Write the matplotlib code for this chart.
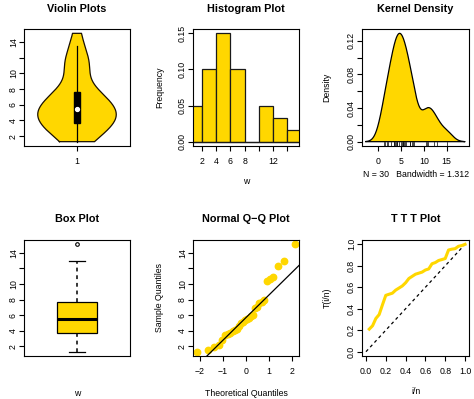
import numpy as np
import matplotlib
matplotlib.use("Agg")
import matplotlib.pyplot as plt
from statistics import NormalDist

plt.rcParams['font.family'] = ['Liberation Sans', 'DejaVu Sans']

# sorted sample
w = [1.3, 1.5, 1.95, 2.2, 2.85, 3.5, 3.58, 3.66, 3.9, 4.07,
     4.25, 4.54, 4.95, 5.17, 5.4, 5.52, 5.65, 5.93, 6.08, 6.9,
     7.1, 7.5, 7.7, 7.95, 10.4, 10.7, 10.9, 12.3, 12.9, 15.1]
hist_breaks = [0, 2, 4, 6, 8, 10, 12, 14, 16]
kde_bw = 1.312
violin_bw = 1.6

titles = ["Violin Plots", "Histogram Plot", "Kernel Density",
          "Box Plot", "Normal Q\u2212Q Plot", "T T T Plot"]

GOLD = "#FFD700"
W, H = 474, 399
SMALL = 6.3


def rect(l, t, r, b):
    return [l / W, 1 - b / H, (r - l) / W, (b - t) / H]


def expand(lo, hi):
    d = (hi - lo) * 0.04
    return lo - d, hi + d


def style(ax, xt, yt, xl=None, yl=None):
    ax.set_xticks(xt)
    ax.set_yticks(yt)
    ax.set_xticklabels(xl if xl is not None else [str(v) for v in xt])
    ax.set_yticklabels(yl if yl is not None else [str(v) for v in yt])
    ax.tick_params(direction='out', length=3.6, width=0.8, labelsize=SMALL, color='black')
    ax.tick_params(axis='x', pad=4.5)
    ax.tick_params(axis='y', pad=0.8)
    for lbl in ax.get_yticklabels():
        lbl.set_rotation(90)
        lbl.set_va('center')
    for s in ax.spines.values():
        s.set_linewidth(0.8)
        s.set_color('black')


def kde(x, data, bw):
    data = np.asarray(data)
    z = (x[:, None] - data[None, :]) / bw
    return np.exp(-0.5 * z ** 2).sum(axis=1) / (len(data) * bw * np.sqrt(2 * np.pi))


fig = plt.figure(figsize=(W / 100, H / 100), dpi=100)

cols = [(24, 130), (193, 299), (362, 469)]
rows = [(29, 146), (240, 356)]
axes = []
for r in rows:
    for c in cols:
        axes.append(fig.add_axes(rect(c[0], r[0], c[1], r[1])))

for ax, t in zip(axes, titles):
    pos = ax.get_position()
    fig.text(pos.x0 + pos.width / 2, pos.y1 + 20.5 / H, t, ha='center', va='center',
             fontsize=7.8, fontweight='bold')

data = np.array(w)
n = len(data)
q1, med, q3 = np.percentile(data, [25, 50, 75])
iqr = q3 - q1
ylim_w = expand(data.min(), data.max())
y_ticks = [2, 4, 6, 8, 10, 12, 14]
y_lbls = ['2', '4', '6', '8', '10', '', '14']

# violin
ax = axes[0]
yy = np.linspace(data.min(), data.max(), 200)
dens = kde(yy, data, violin_bw)
half = dens / dens.max() * 0.4
ax.fill_betweenx(yy, 1 - half, 1 + half, facecolor=GOLD, edgecolor='none')
ax.plot(np.r_[1 - half, (1 + half)[::-1], (1 - half)[0]],
        np.r_[yy, yy[::-1], yy[0]], color='#1a1000', lw=0.9)
hi_wh = min(data.max(), q3 + 1.5 * iqr)
lo_wh = max(data.min(), q1 - 1.5 * iqr)
ax.plot([1, 1], [lo_wh, hi_wh], color='black', lw=0.9)
ax.add_patch(plt.Rectangle((1 - 0.029, q1), 0.058, q3 - q1, color='black'))
ax.plot([1], [med], 'o', color='white', ms=2.8, mec='white')
ax.set_xlim(expand(0.5, 1.5))
ax.set_ylim(ylim_w)
style(ax, [1], y_ticks, yl=y_lbls)

# histogram
ax = axes[1]
counts, _ = np.histogram(data, bins=hist_breaks)
dh = counts / (n * 2.0)
ax.bar(hist_breaks[:-1], dh, width=2, align='edge', color=GOLD, edgecolor='#1a1a1a', lw=0.9)
ax.axhline(0, color='#1a1a1a', lw=0.9)
ax.set_xlim(ylim_w)
ax.set_ylim(expand(0, dh.max()))
style(ax, [2, 4, 6, 8, 10, 12, 14], [0, 0.05, 0.10, 0.15],
      xl=['2', '4', '6', '8', '', '12', ''], yl=['0.00', '0.05', '0.10', '0.15'])

# kernel density
ax = axes[2]
xx = np.linspace(data.min() - 3 * kde_bw, data.max() + 3 * kde_bw, 512)
dk = kde(xx, data, kde_bw)
ax.fill_between(xx, 0, dk, facecolor=GOLD, edgecolor='none')
ax.plot(np.r_[xx, xx[::-1][:1], xx[0]], np.r_[dk, 0, 0], color='black', lw=0.9)
for v in data:
    ax.plot([v, v], [0, 0.03], transform=ax.get_xaxis_transform(), color='black', lw=0.5)
ax.set_xlim(expand(xx.min(), xx.max()))
ax.set_ylim(expand(0, dk.max()))
style(ax, [0, 5, 10, 15], [0, 0.02, 0.04, 0.06, 0.08, 0.10, 0.12],
      yl=['0.00', '', '0.04', '', '0.08', '', '0.12'])

# box plot
ax = axes[3]
ax.add_patch(plt.Rectangle((0.8, q1), 0.4, iqr, facecolor=GOLD, edgecolor='black', lw=0.9, zorder=2))
ax.plot([0.8, 1.2], [med, med], color='black', lw=2.2, zorder=3, solid_capstyle='butt')
inside = data[(data >= q1 - 1.5 * iqr) & (data <= q3 + 1.5 * iqr)]
for a, b in [(q3, inside.max()), (q1, inside.min())]:
    ax.plot([1, 1], [a, b], color='black', lw=1.1, dashes=(2.5, 2.5))
    ax.plot([0.92, 1.08], [b, b], color='black', lw=0.9)
outl = data[(data < q1 - 1.5 * iqr) | (data > q3 + 1.5 * iqr)]
ax.plot(np.ones(len(outl)), outl, 'o', mfc='white', mec='black', ms=2.6, mew=0.8)
ax.set_xlim(expand(0.5, 1.5))
ax.set_ylim(ylim_w)
style(ax, [], y_ticks, xl=[], yl=y_lbls)
ax.tick_params(axis='x', length=0)

# normal q-q
ax = axes[4]
nd = NormalDist()
pp = [(i - 0.5) / n for i in range(1, n + 1)]
tq = np.array([nd.inv_cdf(p) for p in pp])
ax.plot(tq, data, 'o', color=GOLD, ms=4.6, mec=GOLD)
slope = iqr / (nd.inv_cdf(0.75) - nd.inv_cdf(0.25))
icpt = q1 - slope * nd.inv_cdf(0.25)
lx = np.array([-3, 3])
ax.plot(lx, icpt + slope * lx, color='black', lw=0.9)
ax.set_xlim(expand(tq.min(), tq.max()))
ax.set_ylim(ylim_w)
style(ax, [-2, -1, 0, 1, 2], y_ticks, xl=['\u22122', '\u22121', '0', '1', '2'], yl=y_lbls)

# TTT
ax = axes[5]
i = np.arange(1, n + 1)
ttt = (np.cumsum(data) + (n - i) * data) / data.sum()
ax.plot([0, 1], [0, 1], color='black', lw=0.9, dashes=(2.5, 2.5))
ax.plot(i / n, ttt, color=GOLD, lw=2.2)
ax.set_xlim(expand(0, 1))
ax.set_ylim(expand(0, 1))
tk = [0, 0.2, 0.4, 0.6, 0.8, 1.0]
tl = ['0.0', '0.2', '0.4', '0.6', '0.8', '1.0']
style(ax, tk, tk, xl=tl, yl=tl)

# axis labels
fig.text(257 / W / 1 - 11 / W, 1 - 182 / H, "w", ha='center', va='center', fontsize=SMALL)
fig.text(416 / W, 1 - 174.5 / H, "N = 30   Bandwidth = 1.312", ha='center', va='center', fontsize=SMALL)
fig.text(77 / W, 1 - 393 / H, "w", ha='center', va='center', fontsize=SMALL)
fig.text(246 / W, 1 - 393 / H, "Theoretical Quantiles", ha='center', va='center', fontsize=SMALL)
fig.text(416 / W, 1 - 392 / H, "i/n", ha='center', va='center', fontsize=SMALL)
fig.text(160 / W, 1 - 87.5 / H, "Frequency", ha='center', va='center', rotation=90, fontsize=SMALL)
fig.text(327 / W, 1 - 87.5 / H, "Density", ha='center', va='center', rotation=90, fontsize=SMALL)
fig.text(160 / W, 1 - 298 / H, "Sample Quantiles", ha='center', va='center', rotation=90, fontsize=SMALL)
fig.text(327 / W, 1 - 298 / H, "T(i/n)", ha='center', va='center', rotation=90, fontsize=SMALL)

fig.savefig("out.png", dpi=100)
